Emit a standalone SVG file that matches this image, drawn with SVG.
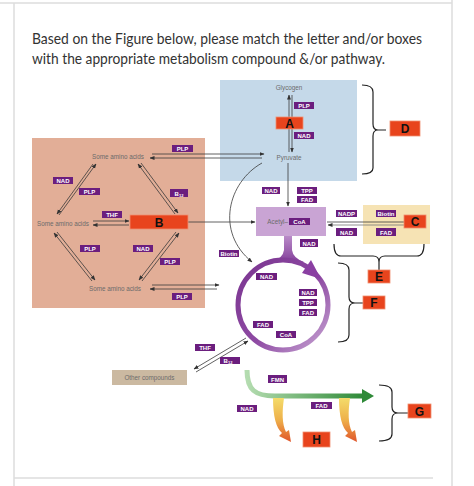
<svg xmlns="http://www.w3.org/2000/svg" width="474" height="486" viewBox="0 0 474 486">
<defs>
<style>
.q{font-family:Lato,"Liberation Sans",sans-serif;font-size:15px;fill:#333}
.lbl{font-family:"Liberation Sans",Arial,sans-serif;font-size:6.3px;fill:#6b6b6b}
.bg rect{fill:#6b1e7e}
.bg text{font-family:"Liberation Sans",Arial,sans-serif;font-size:6px;font-weight:bold;fill:#fff;text-anchor:middle}
.lt rect{fill:#e8441d;stroke:#f09070;stroke-width:0.8}
.lt text{font-family:"Liberation Sans",Arial,sans-serif;font-size:12px;font-weight:bold;fill:#111;text-anchor:middle}
.ln{stroke:#3a3a3a;stroke-width:0.8;fill:none}
.br{stroke:#222;stroke-width:1.2;fill:none}
.fr{stroke:#dcdcdc;stroke-width:1.5}
</style>
<marker id="ah" viewBox="0 0 10 10" refX="9" refY="5" markerWidth="5" markerHeight="5" orient="auto" markerUnits="userSpaceOnUse"><path d="M0,1 L10,5 L0,9 z" fill="#333"/></marker>
<linearGradient id="ring" x1="0" y1="0" x2="1" y2="1"><stop offset="0" stop-color="#7a3590"/><stop offset="0.55" stop-color="#8e4aa3"/><stop offset="1" stop-color="#c8a6d4"/></linearGradient>
<linearGradient id="stem" x1="0" y1="0" x2="0" y2="1"><stop offset="0" stop-color="#b98bc8"/><stop offset="1" stop-color="#84409b"/></linearGradient>
<linearGradient id="grn" x1="0" y1="0" x2="1" y2="0"><stop offset="0" stop-color="#b4dcb0"/><stop offset="1" stop-color="#2f8a38"/></linearGradient>
<linearGradient id="yel" x1="0" y1="0" x2="0" y2="1"><stop offset="0" stop-color="#f4dc6a"/><stop offset="0.5" stop-color="#eeb04a"/><stop offset="1" stop-color="#e0552a"/></linearGradient>
</defs>

<g id="frame">
<line class="fr" x1="0" y1="3" x2="452" y2="3"/>
<line class="fr" x1="14" y1="3" x2="14" y2="486"/>
<line class="fr" x1="452" y1="0" x2="452" y2="486"/>
<line class="fr" x1="14" y1="478" x2="433" y2="478"/>
</g>

<g id="question">
<text class="q" x="32" y="44" textLength="390" lengthAdjust="spacingAndGlyphs">Based on the Figure below, please match the letter and/or boxes</text>
<text class="q" x="32" y="64" textLength="353" lengthAdjust="spacingAndGlyphs">with the appropriate metabolism compound &amp;/or pathway.</text>
</g>

<g id="regions">
<rect x="220" y="80" width="137" height="101" fill="#c5d9e9"/>
<rect x="32" y="138" width="173" height="170" fill="#e2ae97"/>
<rect x="363" y="205" width="67" height="39" fill="#f6e3b4"/>
</g>

<g id="connectors">
<!-- glycogen <-> pyruvate -->
<line class="ln" x1="289" y1="152" x2="289" y2="95" marker-end="url(#ah)"/>
<line class="ln" x1="292" y1="95" x2="292" y2="152" marker-end="url(#ah)"/>
<!-- pyruvate -> acetyl -->
<line class="ln" x1="288" y1="163" x2="288" y2="206" marker-end="url(#ah)"/>
<!-- amino acids top <-> pyruvate -->
<line class="ln" x1="152" y1="154" x2="264" y2="154" marker-end="url(#ah)"/>
<line class="ln" x1="262" y1="158" x2="150" y2="158" marker-end="url(#ah)"/>
<!-- diagonals -->
<line class="ln" x1="93" y1="164" x2="57" y2="214" marker-end="url(#ah)"/>
<line class="ln" x1="59" y1="215" x2="96" y2="164" marker-end="url(#ah)"/>
<line class="ln" x1="141" y1="163" x2="178" y2="213" marker-end="url(#ah)"/>
<line class="ln" x1="175" y1="214" x2="138" y2="164" marker-end="url(#ah)"/>
<line class="ln" x1="57" y1="232" x2="95" y2="280" marker-end="url(#ah)"/>
<line class="ln" x1="92" y1="281" x2="54" y2="233" marker-end="url(#ah)"/>
<line class="ln" x1="176" y1="232" x2="139" y2="280" marker-end="url(#ah)"/>
<line class="ln" x1="142" y1="281" x2="179" y2="233" marker-end="url(#ah)"/>
<!-- THF pair -->
<line class="ln" x1="93" y1="221" x2="129" y2="221" marker-end="url(#ah)"/>
<line class="ln" x1="129" y1="225" x2="93" y2="225" marker-end="url(#ah)"/>
<!-- B -> acetyl -->
<line class="ln" x1="188" y1="222" x2="255" y2="222" marker-end="url(#ah)"/>
<!-- bottom amino acids <-> cycle -->
<line class="ln" x1="152" y1="285" x2="219" y2="285" marker-end="url(#ah)"/>
<line class="ln" x1="217" y1="289" x2="150" y2="289" marker-end="url(#ah)"/>
<!-- acetyl <-> C -->
<line class="ln" x1="327" y1="222" x2="404" y2="222"/>
<line x1="404" y1="225" x2="328" y2="225" stroke="#777" stroke-width="0.8" marker-end="url(#ah)"/>
<!-- pyruvate -> cycle (biotin) -->
<path class="ln" d="M262,163 C228,182 215,232 252,262" marker-end="url(#ah)"/>
<!-- cycle <-> other compounds -->
<line class="ln" x1="246" y1="338" x2="194" y2="369" marker-end="url(#ah)"/>
<line class="ln" x1="196" y1="372" x2="248" y2="341" marker-end="url(#ah)"/>
</g>

<g id="cycle">
<path d="M284,236 L292,236 L292,250 Q293,258 304,262 L272,262 Q283,258 284,250 Z" fill="url(#stem)"/>
<circle cx="283" cy="305" r="45" fill="none" stroke="url(#ring)" stroke-width="5"/>
<polygon points="311,260 302,273 321,279" fill="#8a3fa2"/>
</g>

<g id="etc">
<path d="M247,370 C247,390 255,396 275,396 L363,396" fill="none" stroke="url(#grn)" stroke-width="5"/>
<polygon points="362,389 374,396 362,403" fill="#2f8a38"/>
<path d="M273,398 C273,416 276,428 282,433 L279,436 L291,442 L289,430 L286,432 C282,424 282,412 284,398 Z" fill="url(#yel)"/>
<path d="M339,398 C339,416 342,428 348,433 L345,436 L357,442 L355,430 L352,432 C348,424 348,412 350,398 Z" fill="url(#yel)"/>
</g>

<g id="labels">
<text class="lbl" x="289" y="90" text-anchor="middle">Glycogen</text>
<text class="lbl" x="289" y="160" text-anchor="middle">Pyruvate</text>
<text class="lbl" x="118" y="159" text-anchor="middle">Some amino acids</text>
<text class="lbl" x="63" y="226" text-anchor="middle">Some amino acids</text>
<text class="lbl" x="115" y="291" text-anchor="middle">Some amino acids</text>
</g>

<g id="acetyl">
<rect x="256" y="207" width="70" height="29" fill="#c9a4d4"/>
<text class="lbl" x="288" y="224" text-anchor="end">Acetyl–</text>
</g>

<g id="other">
<rect x="112" y="370" width="75" height="15" fill="#cbb9a1"/>
<text class="lbl" x="149.5" y="380" text-anchor="middle">Other compounds</text>
</g>

<g id="badges" class="bg">
<rect x="294" y="102" width="20" height="7"/><text x="304" y="108">PLP</text>
<rect x="294" y="132" width="20" height="7"/><text x="304" y="138">NAD</text>
<rect x="172" y="145" width="21" height="7"/><text x="182.5" y="151">PLP</text>
<rect x="53" y="177" width="20" height="7"/><text x="63" y="183">NAD</text>
<rect x="79" y="188" width="21" height="7"/><text x="89.5" y="194">PLP</text>
<rect x="170" y="189" width="18" height="8"/><text x="179" y="195.5">B<tspan font-size="4" dy="1">12</tspan></text>
<rect x="102" y="211" width="20" height="7"/><text x="112" y="217">THF</text>
<rect x="80" y="245" width="20" height="7"/><text x="90" y="251">PLP</text>
<rect x="133" y="245" width="20" height="7"/><text x="143" y="251">NAD</text>
<rect x="160" y="258" width="20" height="7"/><text x="170" y="264">PLP</text>
<rect x="172" y="293" width="20" height="7"/><text x="182" y="299">PLP</text>
<rect x="262" y="187" width="18" height="7"/><text x="271" y="193">NAD</text>
<rect x="297" y="187" width="20" height="7"/><text x="307" y="193">TPP</text>
<rect x="297" y="196" width="20" height="7"/><text x="307" y="202">FAD</text>
<rect x="289" y="218" width="21" height="7"/><text x="299.5" y="224">CoA</text>
<rect x="300" y="239" width="18" height="8"/><text x="309" y="245.5">NAD</text>
<rect x="219" y="250" width="20" height="7"/><text x="229" y="256">Biotin</text>
<rect x="336" y="210" width="21" height="7"/><text x="346.5" y="216">NADP</text>
<rect x="336" y="228" width="21" height="8"/><text x="346.5" y="234.5">NAD</text>
<rect x="376" y="210" width="20" height="7"/><text x="386" y="216">Biotin</text>
<rect x="376" y="228" width="20" height="8"/><text x="386" y="234.5">FAD</text>
<rect x="256" y="273" width="21" height="7"/><text x="266.5" y="279">NAD</text>
<rect x="299" y="289" width="18" height="7"/><text x="308" y="295">NAD</text>
<rect x="299" y="299" width="18" height="7"/><text x="308" y="305">TPP</text>
<rect x="299" y="309" width="18" height="7"/><text x="308" y="315">FAD</text>
<rect x="253" y="321" width="20" height="7"/><text x="263" y="327">FAD</text>
<rect x="276" y="331" width="20" height="7"/><text x="286" y="337">CoA</text>
<rect x="195" y="344" width="20" height="7"/><text x="205" y="350">THF</text>
<rect x="220" y="357" width="20" height="7"/><text x="228" y="362.5">B<tspan font-size="4" dy="1">12</tspan></text>
<rect x="268" y="375" width="19" height="8"/><text x="277.5" y="381.5">FMN</text>
<rect x="237" y="405" width="20" height="7"/><text x="247" y="411">NAD</text>
<rect x="311" y="402" width="21" height="7"/><text x="321.5" y="408">FAD</text>
</g>

<g id="braces">
<path class="br" d="M362,85 Q373,85 373,92 L373,124 Q373,130 378,130 Q373,130 373,136 L373,168 Q373,174 362,174 M375,130 L386,130"/>
<path class="br" d="M334,244 Q334,256 341,256 L373,256 Q379,256 379,262 Q379,256 385,256 L417,256 Q424,256 424,244 M379,259 L379,270"/>
<path class="br" d="M338,263 Q349,263 349,270 L349,297 Q349,303 355,303 Q349,303 349,309 L349,335 Q349,342 338,342 M352,303 L363,303"/>
<path class="br" d="M379,385 Q392,385 392,392 L392,407 Q392,413 398,413 Q392,413 392,419 L392,434 Q392,441 379,441 M395,413 L408,413"/>
</g>

<g id="A" class="lt"><rect x="276" y="117" width="27" height="12"/><text x="289.5" y="128">A</text></g>
<g id="B" class="lt"><rect x="130" y="215" width="58" height="14"/><text x="159" y="226.5">B</text></g>
<g id="C" class="lt"><rect x="404" y="215" width="22" height="13"/><text x="415" y="226">C</text></g>
<g id="D" class="lt"><rect x="390" y="121" width="30" height="15"/><text x="405" y="133">D</text></g>
<g id="E" class="lt"><rect x="368" y="270" width="22" height="13"/><text x="379" y="281">E</text></g>
<g id="F" class="lt"><rect x="363" y="296" width="22" height="13"/><text x="374" y="307">F</text></g>
<g id="G" class="lt"><rect x="408" y="404" width="23" height="14"/><text x="419.5" y="415.5">G</text></g>
<g id="H" class="lt"><rect x="303" y="432" width="27" height="15"/><text x="316.5" y="444">H</text></g>
</svg>
